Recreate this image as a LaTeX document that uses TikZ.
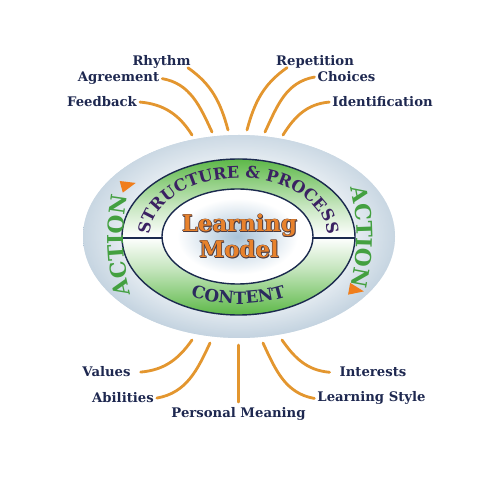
\documentclass[tikz,border=0pt]{standalone}
\usepackage{fontspec}
\setmainfont{DejaVu Serif}
\usetikzlibrary{decorations.text,fadings}
\definecolor{navy}{HTML}{1E2850}
\definecolor{linecol}{HTML}{E3962F}
\definecolor{outl}{HTML}{1B2A4E}
\definecolor{ringgreen}{HTML}{5DB848}
\definecolor{actgreen}{HTML}{43A040}
\definecolor{tri}{HTML}{F07E1C}
\definecolor{purp}{HTML}{3A2162}
\definecolor{contcol}{HTML}{2B2A5E}
\definecolor{outerblue}{HTML}{A3BBCF}
\definecolor{innerblue}{HTML}{A9C3D8}
\definecolor{lmorange}{HTML}{E8822C}
\definecolor{lmshadow}{HTML}{4A3A40}
\pgfdeclareradialshading{outersh}{\pgfpoint{0bp}{0bp}}{color(0bp)=(white); color(13bp)=(white); color(25bp)=(outerblue); color(50bp)=(outerblue)}
\pgfdeclareradialshading{innersh}{\pgfpoint{0bp}{0bp}}{color(0bp)=(innerblue); color(20bp)=(white); color(50bp)=(white)}
\pgfdeclareverticalshading{greensh}{100bp}{color(0bp)=(ringgreen); color(25bp)=(ringgreen); color(40bp)=(ringgreen!35!white); color(50bp)=(white); color(60bp)=(ringgreen!35!white); color(75bp)=(ringgreen); color(100bp)=(ringgreen)}
\tikzfading[name=tbfade, top color=transparent!55, middle color=transparent!100, bottom color=transparent!65]
\begin{document}
\begin{tikzpicture}[x=0.025cm,y=0.025cm,
  lbl/.style={font=\bfseries\fontsize{9.4}{11}\selectfont, text=navy, inner sep=2pt, anchor=base},
  ray/.style={draw=linecol, line width=2pt, line cap=round},
  ring/.style={draw=outl, line width=1pt},
  lmf/.style={font=\bfseries\fontsize{16.2}{18}\selectfont, inner sep=0pt, anchor=base},
  ]
\useasboundingbox (0,0) rectangle (480,480);
\coordinate (C) at (238.5,243);
% labels
\node[lbl] (fb) at (102,373) {Feedback};
\node[lbl] (ag) at (118.5,398) {Agreement};
\node[lbl] (rh) at (161.5,414) {Rhythm};
\node[lbl] (re) at (315,414) {Repetition};
\node[lbl] (ch) at (346.5,398) {Choices};
\node[lbl] (id) at (382.5,373) {Identification};
\node[lbl] (va) at (106.5,103) {Values};
\node[lbl] (ab) at (123,77) {Abilities};
\node[lbl] (pm) at (238.5,62) {Personal Meaning};
\node[lbl] (in) at (373,103) {Interests};
\node[lbl] (ls) at (371.5,78) {Learning Style};
% ray ends
\coordinate (fbE) at (192,345);
\coordinate (agE) at (212,348);
\coordinate (rhE) at (228,350);
\coordinate (reE) at (247,350);
\coordinate (chE) at (265,348);
\coordinate (idE) at (283,345);
\coordinate (vaE) at (192,140);
\coordinate (abE) at (210,137);
\coordinate (pmE) at (238.5,135);
\coordinate (inE) at (282,140);
\coordinate (lsE) at (263,137);
% rays
\draw[ray] (fb.east) to[out=-5,in=122] (fbE);
\draw[ray] (ag.east) to[out=-10,in=115] (agE);
\draw[ray] ([xshift=-4pt,yshift=3pt]rh.south east) to[out=-35,in=105] (rhE);
\draw[ray] ([xshift=10pt,yshift=3pt]re.south west) to[out=215,in=75] (reE);
\draw[ray] (ch.west) to[out=190,in=65] (chE);
\draw[ray] (id.west) to[out=185,in=58] (idE);
\draw[ray] ([xshift=5pt]va.east) to[out=5,in=-125] (vaE);
\draw[ray] (ab.east) to[out=10,in=-115] (abE);
\draw[ray] ([yshift=2pt]pm.north) -- (pmE);
\draw[ray] ([xshift=-5pt]in.west) to[out=175,in=-55] (inE);
\draw[ray] (ls.west) to[out=170,in=-65] (lsE);
% ellipses
\path[shading=outersh] (239,243.5) ellipse [x radius=156, y radius=101.5];
\fill[white, path fading=tbfade] (239,243.5) ellipse [x radius=156, y radius=101.5];
\shadedraw[shading=greensh, ring] (C) ellipse [x radius=116.5, y radius=78];
\draw[ring] (122,242) -- (162,242);
\draw[ring] (313,242) -- (355,242);
\shadedraw[shading=innersh, ring] (237.5,243.5) ellipse [x radius=75.5, y radius=47.5];
% curved texts
\path[decorate, decoration={text along path, text={|\bfseries\fontsize{11.5}{12}\selectfont|STRUCTURE {\&} PROCESS}, text color=purp, text align=center}]
  (C) ++(174:89 and 59) arc[start angle=174, end angle=6, x radius=89, y radius=59];
\path[decorate, decoration={text along path, text={|\bfseries\fontsize{12}{12}\selectfont|CONTENT}, text color=contcol, text align=center}]
  (C) ++(205:105 and 67) arc[start angle=205, end angle=335, x radius=105, y radius=67];
\path[decorate, decoration={text along path, text={|\bfseries\fontsize{15.5}{16}\selectfont|ACTION}, text color=actgreen, text align=center}]
  (C) ++(203:115 and 160) arc[start angle=203, end angle=163, x radius=115, y radius=160];
\path[decorate, decoration={text along path, text={|\bfseries\fontsize{15.5}{16}\selectfont|ACTION}, text color=actgreen, text align=center}]
  (C) ++(20:118 and 160) arc[start angle=20, end angle=-20, x radius=118, y radius=160];
% triangles
\fill[tri, rotate around={15:(128,295)}] (121,301) -- (136,295) -- (121,289) -- cycle;
\fill[tri, rotate around={-10:(356,190)}] (349,196) -- (364,190) -- (349,184) -- cycle;
% Learning Model
\foreach \dx/\dy [count=\i] in {0.4/0, -0.4/0, 0/0.4, 0/-0.4, 0.7/-0.7} {
  \node[lmf, text=lmshadow] (lsh\i) at ([shift={(\dx pt,\dy pt)}]239.5,248) {Learning};
  \node[lmf, text=lmshadow] (msh\i) at ([shift={(\dx pt,\dy pt)}]239,222) {Model};
}
\node[lmf, text=lmorange] (learn) at (239.5,248) {Learning};
\node[lmf, text=lmorange] (model) at (239,222) {Model};
\end{tikzpicture}
\end{document}
